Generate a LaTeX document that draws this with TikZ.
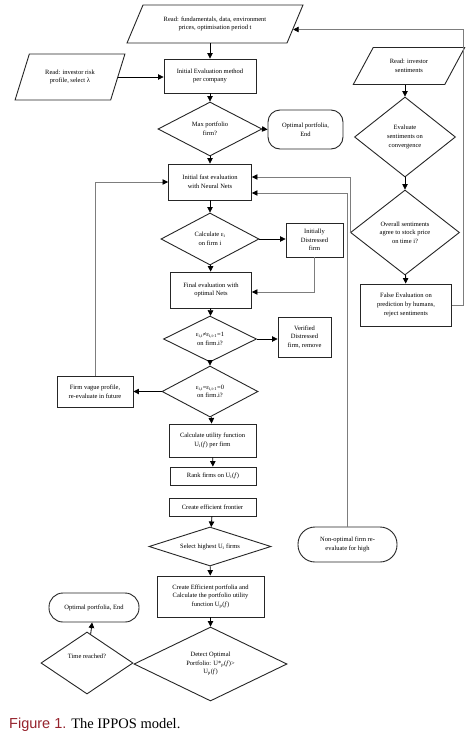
\documentclass[tikz,border=0pt]{standalone}
\usepackage{fontspec}
\setmainfont{Liberation Serif}
\newfontfamily\capsans{Liberation Sans}
\usetikzlibrary{shapes.geometric,arrows.meta}
\definecolor{figred}{RGB}{150,35,45}
\definecolor{fbgray}{RGB}{125,125,125}
\newcommand{\sbs}[1]{\textsubscript{#1}}

\begin{document}
\begin{tikzpicture}[x=1pt,y=-1pt,
	every node/.style={font=\fontsize{6.5}{8.6}\selectfont,align=center,inner sep=0pt},
	shp/.style={draw=black!85,line width=0.9pt},
	box/.style={shp,rectangle},
	io/.style={shp,trapezium,trapezium stretches=true},
	ask/.style={shp,diamond},
	arr/.style={line width=0.8pt,-{Triangle[length=5.5pt,width=5.5pt]}},
	fb/.style={fbgray,line width=0.7pt,-{Triangle[length=5.5pt,width=5.5pt,color=black]}}]
	\fill [white] (0,0) rectangle (474,739);
	\useasboundingbox (0,0) rectangle (474,739);

	% inputs
	\node [io,trapezium left angle=52,trapezium right angle=128,minimum width=176pt,minimum height=38pt] (read) at (215,24) {Read: fundamentals, data, environment\\prices, optimisation period t};
	\node [io,trapezium left angle=59,trapezium right angle=121,minimum width=110pt,minimum height=46pt] (risk) at (70,77) {Read: investor risk\\profile, select λ};
	\node [io,trapezium left angle=51,trapezium right angle=129,minimum width=112pt,minimum height=37pt] (senti) at (409,66) {Read: investor\\sentiments};

	% main column
	\node [box,minimum width=92pt,minimum height=34pt] (init) at (210,76) {Initial Evaluation method\\per company};
	\node [ask,aspect=1.93,minimum width=104pt,minimum height=54pt] (maxq) at (210,129) {Max portfolio\\firm?};
	\node [box,rounded corners=12pt,minimum width=75pt,minimum height=39pt] (optend) at (305.5,129.5) {Optimal portfolia,\\End};
	\node [box,minimum width=83pt,minimum height=36pt] (fast) at (210,182) {Initial fast evaluation\\with Neural Nets};
	\node [ask,aspect=1.9,minimum width=98pt,minimum height=52pt] (calcq) at (210,239) {Calculate ε\sbs{i}\\on firm i};
	\node [box,minimum width=57pt,minimum height=34pt] (distr) at (314.5,240) {Initially\\Distressed\\firm};
	\node [box,minimum width=81pt,minimum height=36pt] (final) at (211,290) {Final evaluation with\\optimal Nets};
	\node [ask,aspect=2,minimum width=93pt,minimum height=46pt] (neq) at (210,339) {ε\sbs{i,t}≠ε\sbs{i,t-1}=1\\on firm.i?};
	\node [box,minimum width=53pt,minimum height=40pt] (verif) at (304.5,337) {Verified\\Distressed\\firm, remove};
	\node [ask,aspect=1.9,minimum width=96pt,minimum height=51pt] (eqq) at (210,391.5) {ε\sbs{i,t}=ε\sbs{i,t-1}=0\\on firm.i?};
	\node [box,minimum width=76pt,minimum height=31pt] (vague) at (95,391.5) {Firm vague profile,\\re-evaluate in future};
	\node [box,minimum width=87pt,minimum height=33pt] (util) at (212.5,440.5) {Calculate utility function\\U\sbs{i}(\textit{f}) per firm};
	\node [box,minimum width=86pt,minimum height=18pt] (rank) at (213,476) {Rank firms on U\sbs{i}(\textit{f})};
	\node [box,minimum width=87pt,minimum height=18pt] (front) at (212.5,507) {Create efficient frontier};
	\node [ask,aspect=3.1,minimum width=122pt,minimum height=39pt] (selq) at (210,546.5) {Select highest U\sbs{i} firms};
	\node [box,minimum width=107pt,minimum height=41pt] (effp) at (210.5,596.5) {Create Efficient portfolia and\\Calculate the portfolio utility\\function U\sbs{p}(\textit{f})};
	\node [ask,aspect=2.07,minimum width=153pt,minimum height=74pt] (detq) at (210.5,664) {Detect Optimal\\Portfolio: U*\sbs{p}(\textit{f})>\\U\sbs{p}(\textit{f})};
	\node [ask,aspect=1.5,minimum width=92pt,minimum height=62pt] (timeq) at (87,663) {Time reached?\\[4pt]};
	\node [box,rounded corners=14pt,minimum width=90pt,minimum height=29pt] (optend2) at (94,607.5) {Optimal portfolia, End};

	% sentiment column
	\node [ask,aspect=1.26,minimum width=101pt,minimum height=80pt] (evalq) at (405,137) {Evaluate\\sentiments on\\convergence};
	\node [ask,aspect=1.28,minimum width=109pt,minimum height=85pt] (agreeq) at (405,232.5) {Overall sentiments\\agree to stock price\\on time i?};
	\node [box,minimum width=91pt,minimum height=42pt] (false) at (406,305) {False Evaluation on\\prediction by humans,\\reject sentiments};
	\node [box,rounded corners=17pt,minimum width=99pt,minimum height=35pt] (nonopt) at (347.5,544.5) {Non-optimal firm re-\\evaluate for high};

	% connectors
	\draw [arr] (read.south -| init.north) -- (init.north);
	\draw [arr] (risk.east) -- (risk.east -| init.west);
	\draw [arr] (init) -- (maxq);
	\draw [arr] (maxq.east) -- (optend.west);
	\draw [arr] (maxq) -- (fast);
	\draw [arr] (fast) -- (calcq);
	\draw [arr] (calcq.east) -- (calcq.east -| distr.west);
	\draw [fb] (distr.south) |- ([yshift=-2pt]final.east);
	\draw [arr] (calcq) -- (final);
	\draw [arr] (final) -- (neq);
	\draw [arr] (neq.east) -- (neq.east -| verif.west);
	\draw [arr] (neq) -- (eqq);
	\draw [arr] (eqq.west) -- (vague.east);
	\draw [fb] (vague.north) |- (fast.west);
	\draw [arr] (eqq) -- (util);
	\draw [arr] (util) -- (rank);
	\draw [arr] (front) -- (selq);
	\draw [arr] (selq) -- (effp);
	\draw [arr] (effp) -- (detq);
	\draw [arr] (timeq) -- (optend2);
	\draw [arr] (senti.south -| evalq.north) -- (evalq.north);
	\draw [arr] (evalq) -- (agreeq);
	\draw [arr] (agreeq) -- (false);
	\draw [fb] (false.east) -- ++(11,0) |- (read.-4);
	\draw [fb] (agreeq.west) |- ([yshift=5pt]fast.east);
	\draw [fb] (nonopt.north) |- ([yshift=-11pt]fast.east);

	\node [anchor=base west,font=\fontsize{14.5}{17}\selectfont] (cap) at (9,728) {{\color{figred}\capsans Figure 1.} The IPPOS model.};
\end{tikzpicture}
\end{document}
